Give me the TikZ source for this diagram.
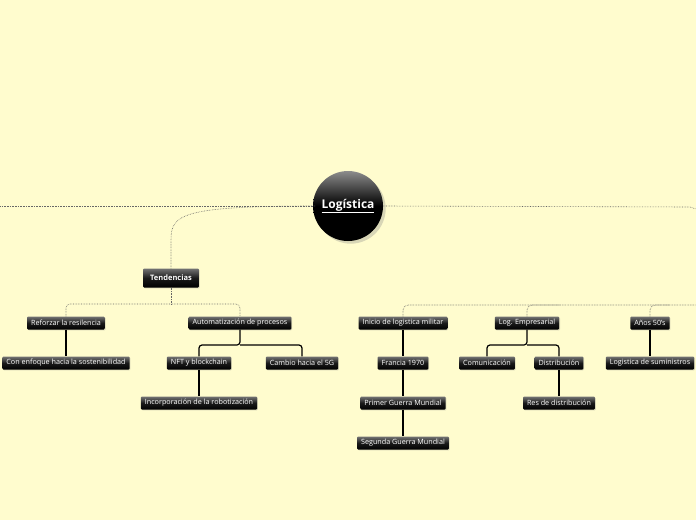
\documentclass[tikz,border=0pt]{standalone}
\usepackage{fontspec}
\setmainfont{Open Sans}
\usetikzlibrary{shadows}
\begin{document}
\begin{tikzpicture}[x=1pt,y=-1pt,
  box/.style={rectangle,rounded corners=1pt,top color=black!55,bottom color=black,middle color=black!90,text=white,font=\fontsize{7.2}{8}\selectfont,inner xsep=4pt,minimum height=13pt,inner ysep=1pt,drop shadow={opacity=0.3,shadow xshift=0.8pt,shadow yshift=-0.8pt}},
  big/.style={box,font=\bfseries\fontsize{7.5}{9}\selectfont,minimum height=19pt,inner xsep=7pt},
  dot/.style={draw=black!60,densely dotted,line width=0.6pt},
  sol/.style={draw=black,line width=1.2pt,rounded corners=3pt}]
\fill[fill={rgb,255:red,255;green,252;blue,206}] (0,0) rectangle (696,520);
\useasboundingbox (0,0) rectangle (696,520);
\coordinate (L) at (0,206);
\coordinate (R) at (696,209);
\coordinate (R2) at (696,305);
\draw[dot] (313,206) -- (L);
\draw[dot] (383,206) -- (690,207) -- (R);
\node[circle,minimum size=70pt,inner sep=0pt,top color=black!45,bottom color=black,middle color=black,text=white,font=\bfseries\fontsize{12}{14}\selectfont,drop shadow={opacity=0.3}] (root) at (348,206) {\underline{Logística}};
\node[big] (ten) at (171,278) {Tendencias};
\draw[dot] (315,206) .. controls (180,206) and (171,215) .. (171,240) -- (ten.north);
\node[box] (ref) at (66,323) {Reforzar la resilencia};
\node[box] (aut) at (240,323) {Automatización de procesos};
\node[box] (con) at (66,363) {Con enfoque hacia la sostenibilidad};
\node[box] (nft) at (199,363) {NFT y blockchain};
\node[box] (cam) at (302,363) {Cambio hacia el 5G};
\node[box] (inc) at (199,403) {Incorporación de la robotización};
\draw[dot] (ten.south) -- (171,304);
\draw[dot,rounded corners=4pt] (ref.north) -- (66,304) -- (240,304) -- (aut.north);
\draw[sol] (ref) -- (con);
\draw[sol] (aut.south) -- (240,345) -- (199,345) -- (nft.north);
\draw[sol] (240,345) -- (302,345) -- (cam.north);
\draw[sol] (nft) -- (inc);
\node[box] (ini) at (403,323) {Inicio de logistica militar};
\node[box] (log) at (527,323) {Log. Empresarial};
\node[box] (ano) at (650,323) {Años 50's};
\node[box] (fra) at (403,363) {Francia 1970};
\node[box] (pri) at (403,403) {Primer Guerra Mundial};
\node[box] (seg) at (403,443) {Segunda Guerra Mundial};
\node[box] (com) at (487,363) {Comunicación};
\node[box] (dis) at (559,363) {Distribución};
\node[box] (res) at (559,403) {Res de distribución};
\node[box] (sum) at (650,363) {Logistica de suministros};
\draw[dot,rounded corners=5pt] (ini.north) -- (403,305) -- (R2);
\draw[dot,rounded corners=5pt] (log.north) -- (527,305) -- (560,305);
\draw[dot,rounded corners=5pt] (ano.north) -- (650,305) -- (670,305);
\draw[sol] (ini) -- (fra);
\draw[sol] (fra) -- (pri);
\draw[sol] (pri) -- (seg);
\draw[sol] (log.south) -- (527,345) -- (487,345) -- (com.north);
\draw[sol] (527,345) -- (559,345) -- (dis.north);
\draw[sol] (dis) -- (res);
\draw[sol] (ano) -- (sum);
\end{tikzpicture}
\end{document}
